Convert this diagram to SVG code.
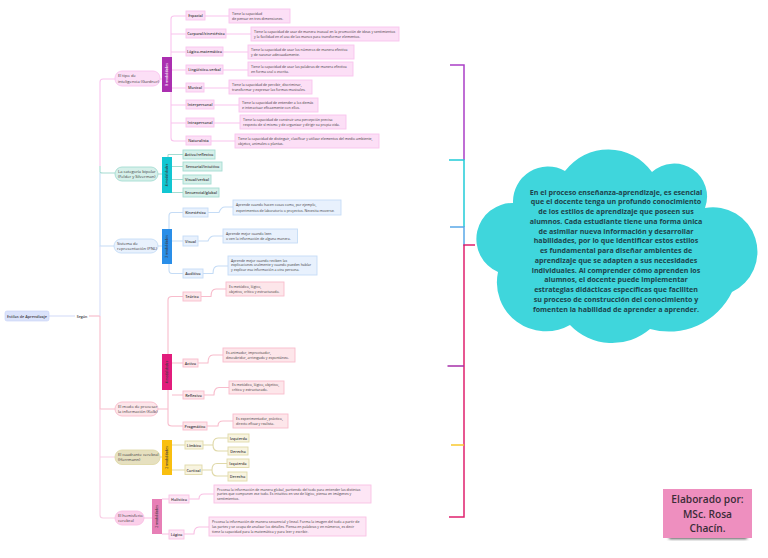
<svg xmlns="http://www.w3.org/2000/svg" width="768" height="558" viewBox="0 0 768 558">
<defs>
<filter id="sh" x="-10%" y="-30%" width="120%" height="160%"><feGaussianBlur stdDeviation="1.5"/></filter>
</defs>
<style>
text{font-family:"Open Sans","Noto Sans","Liberation Sans",sans-serif;fill:#3d3a40}
.n{font-size:3.8px;font-weight:600;text-anchor:middle;dominant-baseline:central}
.d{font-size:3.5px}
.l{font-size:4.1px}
.v{font-size:3.2px;font-weight:600;text-anchor:middle;dominant-baseline:central}
.c{fill:none;stroke-width:1.1;stroke-linejoin:round}
.pk{fill:#fcdff6;stroke:#f9c4ee;stroke-width:.9}
.tl{fill:#d6f0ea;stroke:#a5dcd2;stroke-width:.9}
.bl{fill:#e8f1fd;stroke:#c5dcf6;stroke-width:.9}
.rd{fill:#fde6ea;stroke:#f8bccc;stroke-width:.9}
.yl{fill:#f8f4e0;stroke:#e0d9a9;stroke-width:.9}
.hm{fill:#fde6f5;stroke:#f9c0e4;stroke-width:.9}
.br{fill:none;stroke-width:1.5}
.cl{font-size:7.1px;font-weight:700;text-anchor:middle;fill:#1d444c}
.cr{font-size:10.2px;font-weight:600;text-anchor:middle;fill:#3a2c38}
</style>
<rect width="768" height="558" fill="#fff"/>
<g id="connectors">
<path class="c" stroke="#d6dcf8" d="M49 316H75"/>
<path class="c" stroke="#f6b8c8" d="M89 316H100"/>
<path class="c" stroke="#f9c4ee" d="M115 79H103Q100 79 100 82V166"/>
<path class="c" stroke="#a5dcd2" d="M100 166V172Q100 173 103 173H115"/>
<path class="c" stroke="#c5dcf6" d="M100 173V246H114"/>
<path class="c" stroke="#d6dcf8" d="M100 246V316"/>
<path class="c" stroke="#f8bccc" d="M100 316V409H115"/>
<path class="c" stroke="#f9d0e6" d="M100 409V457H115M100 457V515Q100 518 103 518H115"/>
<path class="c" stroke="#f9c4ee" d="M160 79H171M186 16H174Q171 16 171 19V138Q171 141 174 141H186M171 34H186M171 52H186M171 70H186M171 88H186M171 105H186M171 123H186"/>
<path class="c" stroke="#f9c4ee" d="M205 16H229M226 34H251M223 52H248M223 70H248M204 88H229M214 105H239M214 123H240M211 141H235"/>
<path class="c" stroke="#a5dcd2" d="M158 174H168M168 154.500H183M168 166.500H183M168 179.500H183M168 192.500H183M168 154.500V192.500"/>
<path class="c" stroke="#c5dcf6" d="M158 246H168M183 212.500H172Q169 212.500 169 216V270Q169 273.500 172 273.500H183M172 241H183M208 212.500H219Q221 207 225 207H233M198 241H208Q210 236 214 236H223M203 273.500H213Q213 266 218 266H228"/>
<path class="c" stroke="#f8bccc" d="M158 409H168M183 296.500H172Q168 296.500 168 300V423Q168 426 172 426H183M172 363H183M172 395H183M201 296.500H211Q211 289 216 289H226M198 363H208Q208 355 213 355H223M204 395H214Q214 387.500 219 387.500H229M207 426H218Q218 421 223 421H233"/>
<path class="c" stroke="#e0d9a9" d="M160 457H172M172 445H185M172 470H185M203 445H213M213 445Q213 438 218 438H228M213 445Q213 451 218 451H228M202 470H212M212 470Q212 463.500 217 463.500H227M212 470Q212 476 217 476H228"/>
<path class="c" stroke="#f9c0e4" d="M144 518H152M162 499H169M162 534H169M189 499H199Q199 494 204 494H214M184 534H194Q194 527 199 527H209"/>
</g>
<g id="root"><rect x="5" y="311" width="44" height="10" rx="2" fill="#dbe3fb" stroke="#c6d2f6" stroke-width=".6"/><text class="n" x="27" y="316">Estilos de Aprendizaje</text></g>
<g id="segun"><text class="n" x="82" y="316" style="font-size:3.6px">Según</text></g>

<g id="gardner"><rect class="pk" x="115" y="71" width="45" height="15" rx="7"/><text class="l" x="118" y="77">El tipo de</text><text class="l" x="118" y="82.500">inteligencia (Gardner)</text></g>
<g id="bar-gardner"><rect x="162" y="57" width="10" height="35" fill="#ab2fb0"/><text class="v" transform="translate(167 74.500) rotate(-90)" style="fill:#fff">8 modalidades</text></g>

<g id="espacial"><rect class="pk" x="186" y="11" width="19" height="9"/><text class="n" x="195.500" y="15.500">Espacial</text></g>
<g id="espacial-d"><rect class="pk" x="229" y="9" width="61" height="14"/><text class="d" x="232" y="14.500">Tiene la capacidad</text><text class="d" x="232" y="19.500">de pensar en tres dimensiones.</text></g>
<g id="corporal"><rect class="pk" x="186" y="29" width="40" height="9"/><text class="n" x="206" y="33.500">Corporal/cinestésico</text></g>
<g id="corporal-d"><rect class="pk" x="251" y="27" width="148" height="14"/><text class="d" x="254" y="32.500">Tiene la capacidad de usar de manera inusual en la promoción de ideas y sentimientos</text><text class="d" x="254" y="37.500">y la facilidad en el uso de las manos para transformar elementos.</text></g>
<g id="logico"><rect class="pk" x="186" y="47" width="37" height="9"/><text class="n" x="204.500" y="51.500">Lógico-matemático</text></g>
<g id="logico-d"><rect class="pk" x="248" y="45" width="106" height="14"/><text class="d" x="251" y="50.500">Tiene la capacidad de usar los números de manera efectiva</text><text class="d" x="251" y="55.500">y de razonar adecuadamente.</text></g>
<g id="linguistico"><rect class="pk" x="186" y="65" width="37" height="9"/><text class="n" x="204.500" y="69.500">Lingüístico-verbal</text></g>
<g id="linguistico-d"><rect class="pk" x="248" y="62" width="105" height="14"/><text class="d" x="251" y="67.500">Tiene la capacidad de usar las palabras de manera efectiva</text><text class="d" x="251" y="72.500">en forma oral o escrita.</text></g>
<g id="musical"><rect class="pk" x="186" y="83" width="18" height="9"/><text class="n" x="195" y="87.500">Musical</text></g>
<g id="musical-d"><rect class="pk" x="229" y="80" width="83" height="14"/><text class="d" x="232" y="85.500">Tiene la capacidad de percibir, discriminar,</text><text class="d" x="232" y="90.500">transformar y expresar las formas musicales.</text></g>
<g id="interpersonal"><rect class="pk" x="186" y="100" width="28" height="9"/><text class="n" x="200" y="104.500">Interpersonal</text></g>
<g id="interpersonal-d"><rect class="pk" x="239" y="98" width="79" height="14"/><text class="d" x="242" y="103.500">Tiene la capacidad de entender a los demás</text><text class="d" x="242" y="108.500">e interactuar eficazmente con ellos.</text></g>
<g id="intrapersonal"><rect class="pk" x="186" y="118" width="28" height="9"/><text class="n" x="200" y="122.500">Intrapersonal</text></g>
<g id="intrapersonal-d"><rect class="pk" x="240" y="115" width="106" height="14"/><text class="d" x="243" y="120.500">Tiene la capacidad de construir una percepción precisa</text><text class="d" x="243" y="125.500">respecto de sí mismo y de organizar y dirigir su propia vida.</text></g>
<g id="naturalista"><rect class="pk" x="186" y="136" width="25" height="9"/><text class="n" x="198.500" y="140.500">Naturalista</text></g>
<g id="naturalista-d"><rect class="pk" x="235" y="134" width="144" height="14"/><text class="d" x="238" y="139.500">Tiene la capacidad de distinguir, clasificar y utilizar elementos del medio ambiente,</text><text class="d" x="238" y="144.500">objetos, animales o plantas.</text></g>

<g id="felder"><rect class="tl" x="115" y="167" width="43" height="14" rx="7"/><text class="l" x="118" y="172.500">La categoría bipolar</text><text class="l" x="118" y="178">(Felder y Silverman)</text></g>
<g id="bar-felder"><rect x="162" y="157" width="10" height="36" fill="#12c6d2"/><text class="v" transform="translate(167 175) rotate(-90)">4 modalidades</text></g>
<g id="activo-reflexivo"><rect class="tl" x="183" y="150" width="32" height="9"/><text class="n" x="199" y="154.500">Activo/reflexivo</text></g>
<g id="sensorial"><rect class="tl" x="183" y="162" width="39" height="9"/><text class="n" x="202.500" y="166.500">Sensorial/intuitivo</text></g>
<g id="visual-verbal"><rect class="tl" x="183" y="175" width="28" height="9"/><text class="n" x="197" y="179.500">Visual/verbal</text></g>
<g id="secuencial"><rect class="tl" x="183" y="188" width="36" height="9"/><text class="n" x="201" y="192.500">Secuencial/global</text></g>

<g id="pnl"><rect class="bl" x="114" y="239" width="44" height="14" rx="7"/><text class="l" x="117" y="244.500">Sistema de</text><text class="l" x="117" y="250">representación (PNL)</text></g>
<g id="bar-pnl"><rect x="162" y="229" width="10" height="35" fill="#2a8ee8"/><text class="v" transform="translate(167 246.500) rotate(-90)">3 modalidades</text></g>
<g id="kinestesico"><rect class="bl" x="183" y="208" width="25" height="9"/><text class="n" x="195.500" y="212.500">Kinestésico</text></g>
<g id="kinestesico-d"><rect class="bl" x="233" y="200" width="108" height="15"/><text class="d" x="236" y="206">Aprende cuando hacen cosas como, por ejemplo,</text><text class="d" x="236" y="211.500">experimentos de laboratorio o proyectos. Necesita moverse.</text></g>
<g id="visual"><rect class="bl" x="183" y="236" width="15" height="10"/><text class="n" x="190.500" y="241">Visual</text></g>
<g id="visual-d"><rect class="bl" x="223" y="229" width="74.500" height="14"/><text class="d" x="226" y="234.500">Aprende mejor cuando leen</text><text class="d" x="226" y="239.500">o ven la información de alguna manera.</text></g>
<g id="auditivo"><rect class="bl" x="183" y="269" width="20" height="9"/><text class="n" x="193" y="273.500">Auditivo</text></g>
<g id="auditivo-d"><rect class="bl" x="228" y="256" width="89" height="19"/><text class="d" x="231" y="261.500">Aprende mejor cuando reciben las</text><text class="d" x="231" y="266">explicaciones oralmente y cuando pueden hablar</text><text class="d" x="231" y="271">y explicar esa información a otra persona.</text></g>

<g id="kolb"><rect class="rd" x="115" y="402" width="43" height="14" rx="7"/><text class="l" x="118" y="407.500">El modo de procesar</text><text class="l" x="118" y="413">la información (Kolb)</text></g>
<g id="bar-kolb"><rect x="162" y="354" width="10" height="36" fill="#e21c7c"/><text class="v" transform="translate(167 372) rotate(-90)">4 modalidades</text></g>
<g id="teorico"><rect class="rd" x="183" y="292" width="18" height="9"/><text class="n" x="192" y="296.500">Teórico</text></g>
<g id="teorico-d"><rect class="rd" x="226" y="282" width="58" height="14"/><text class="d" x="229" y="287.500">Es metódico, lógico,</text><text class="d" x="229" y="292.500">objetivo, crítico y estructurado.</text></g>
<g id="activo"><rect class="rd" x="183" y="359" width="15" height="8"/><text class="n" x="190.500" y="363">Activo</text></g>
<g id="activo-d"><rect class="rd" x="223" y="348" width="72" height="14"/><text class="d" x="226" y="353.500">Es animador, improvisador,</text><text class="d" x="226" y="358.500">descubridor, arriesgado y espontáneo.</text></g>
<g id="reflexivo"><rect class="rd" x="183" y="391" width="21" height="8"/><text class="n" x="193.500" y="395">Reflexivo</text></g>
<g id="reflexivo-d"><rect class="rd" x="229" y="381" width="55" height="13"/><text class="d" x="232" y="386">Es metódico, lógico, objetivo,</text><text class="d" x="232" y="391">crítico y estructurado.</text></g>
<g id="pragmatico"><rect class="rd" x="183" y="422" width="24" height="8"/><text class="n" x="195" y="426">Pragmático</text></g>
<g id="pragmatico-d"><rect class="rd" x="233" y="414" width="55" height="14"/><text class="d" x="236" y="419.500">Es experimentador, práctico,</text><text class="d" x="236" y="424.500">directo eficaz y realista.</text></g>

<g id="herrmann"><rect class="yl" x="115" y="450" width="45" height="14.500" rx="7" style="fill:#e6e0bf"/><text class="l" x="118" y="455.500">El cuadrante cerebral</text><text class="l" x="118" y="461">(Herrmann)</text></g>
<g id="bar-herrmann"><rect x="162" y="440" width="10" height="35" fill="#f9bf10"/><text class="v" transform="translate(167 457.500) rotate(-90)">2 modalidades</text></g>
<g id="limbico"><rect class="yl" x="185" y="441" width="18" height="8"/><text class="n" x="194" y="445">Límbico</text></g>
<g id="cortical"><rect class="yl" x="185" y="465" width="17" height="9.500"/><text class="n" x="193.500" y="470">Cortical</text></g>
<g id="izq1"><rect class="yl" x="228" y="434" width="21" height="8"/><text class="n" x="238.500" y="438">Izquierdo</text></g>
<g id="der1"><rect class="yl" x="228" y="447" width="20" height="8"/><text class="n" x="238" y="451">Derecho</text></g>
<g id="izq2"><rect class="yl" x="227" y="459" width="22" height="8.500"/><text class="n" x="238" y="463.500">Izquierdo</text></g>
<g id="der2"><rect class="yl" x="228" y="472" width="19" height="9"/><text class="n" x="237.500" y="476.500">Derecho</text></g>

<g id="sperry"><rect class="hm" x="115" y="511" width="29" height="14" rx="7" style="fill:#fbd0ea"/><text class="l" x="118" y="516.500">El hemisferio</text><text class="l" x="118" y="522">cerebral</text></g>
<g id="bar-sperry"><rect x="152" y="499" width="10" height="35" fill="#e77fb6"/><text class="v" transform="translate(157 516.500) rotate(-90)">2 modalidades</text></g>
<g id="holistico"><rect class="hm" x="169" y="495" width="20" height="8"/><text class="n" x="179" y="499">Holístico</text></g>
<g id="holistico-d"><rect class="hm" x="214" y="485" width="157" height="18"/><text class="d" x="217" y="490.500">Procesa la información de manera global, partiendo del todo para entender las distintas</text><text class="d" x="217" y="495">partes que componen ese todo. Es intuitivo en vez de lógico, piensa en imágenes y</text><text class="d" x="217" y="500">sentimientos.</text></g>
<g id="logico2"><rect class="hm" x="169" y="530" width="15" height="9"/><text class="n" x="176.500" y="534.500">Lógico</text></g>
<g id="logico2-d"><rect class="hm" x="209" y="517" width="157" height="19"/><text class="d" x="212" y="523">Procesa la información de manera secuencial y lineal. Forma la imagen del todo a partir de</text><text class="d" x="212" y="528">las partes y se ocupa de analizar los detalles. Piensa en palabras y en números, es decir</text><text class="d" x="212" y="533">tiene la capacidad para la matemática y para leer y escribir.</text></g>

<g id="bracket">
<path class="br" stroke="#ab3fc6" d="M450 65H464V160"/>
<path class="br" stroke="#22ccd8" d="M449 160H464V227"/>
<path class="br" stroke="#5aa8e8" d="M450 227H464V246"/>
<path class="br" stroke="#e0206e" d="M475 245H464V517H449"/>
<path class="br" stroke="#a62fa8" d="M447.500 366H464"/>
<path class="br" stroke="#f8c92e" d="M451 445H464"/>
</g>
<g id="cloud">
<path fill="#3fd6dc" d="M513 203A35 35 0 0 1 565 171A54 54 0 0 1 652 172A33 33 0 0 1 705 208A44.500 44.500 0 0 1 732 292A70 70 0 0 1 650 329A58 58 0 0 1 570 325A49 49 0 0 1 498 272A36 36 0 0 1 513 203Z"/>
<text class="cl" x="616" y="194.500">En el proceso enseñanza-aprendizaje, es esencial</text>
<text class="cl" x="616" y="204.300">que el docente tenga un profundo conocimiento</text>
<text class="cl" x="616" y="214">de los estilos de aprendizaje que poseen sus</text>
<text class="cl" x="616" y="223.800">alumnos. Cada estudiante tiene una forma única</text>
<text class="cl" x="616" y="233.500">de asimilar nueva información y desarrollar</text>
<text class="cl" x="616" y="243.300">habilidades, por lo que identificar estos estilos</text>
<text class="cl" x="616" y="253">es fundamental para diseñar ambientes de</text>
<text class="cl" x="616" y="262.800">aprendizaje que se adapten a sus necesidades</text>
<text class="cl" x="616" y="272.500">individuales. Al comprender cómo aprenden los</text>
<text class="cl" x="616" y="282.300">alumnos, el docente puede implementar</text>
<text class="cl" x="616" y="292">estrategias didácticas específicas que faciliten</text>
<text class="cl" x="616" y="301.800">su proceso de construcción del conocimiento y</text>
<text class="cl" x="616" y="311.500">fomenten la habilidad de aprender a aprender.</text>
</g>
<g id="credit">
<rect x="669" y="535" width="78" height="4" fill="#555" filter="url(#sh)"/>
<rect x="663" y="489" width="89" height="49" fill="#ee8fbf"/>
<text class="cr" x="707.500" y="503">Elaborado por:</text>
<text class="cr" x="707.500" y="517.500">MSc. Rosa</text>
<text class="cr" x="707.500" y="531.500">Chacín.</text>
</g>
</svg>
